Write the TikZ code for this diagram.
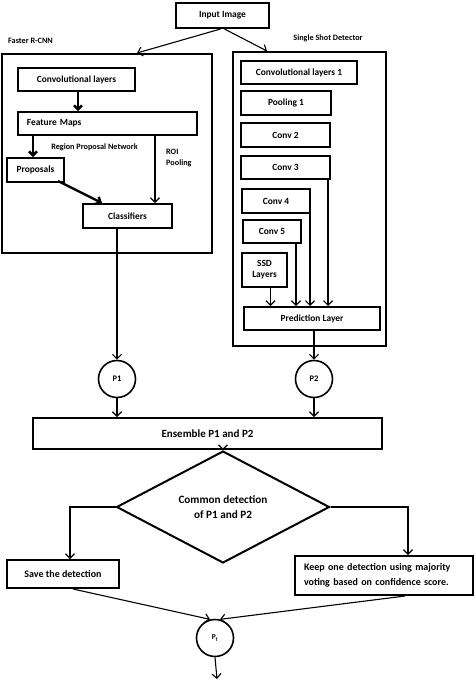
\documentclass[tikz,border=0pt]{standalone}
\usepackage{fontspec}
\setmainfont{Carlito}
\usetikzlibrary{arrows.meta,shapes.geometric}
\begin{document}
\begin{tikzpicture}[x=1pt,y=-1pt,
  box/.style={draw, line width=2pt, inner sep=0pt, font=\bfseries\fontsize{9.4}{11}\selectfont, align=center},
  frame/.style={draw, line width=2pt, inner sep=0pt},
  circ/.style={draw, circle, line width=1.6pt, inner sep=0pt, minimum size=37pt, font=\bfseries\fontsize{8.5}{10}\selectfont},
  lbl/.style={font=\bfseries\fontsize{8.2}{10}\selectfont, inner sep=0pt},
  arr/.style={line width=1.1pt, -{Straight Barb[length=4.5pt,width=9pt]}},
  heavyarr/.style={line width=2.4pt, -{Straight Barb[length=4pt,width=8pt]}},
  ]
\useasboundingbox (0,0) rectangle (474,680);

% frames
\node[frame, minimum width=210pt, minimum height=199pt] (frcnn) at (107,153.5) {};
\node[frame, minimum width=153pt, minimum height=294pt] (ssd) at (309.5,199) {};

\node[box, minimum width=93pt, minimum height=25pt] (input) at (222.5,15.5) {Input Image};

\node[lbl, anchor=west] (lfr) at (8,41) {Faster R-CNN};
\node[lbl] (lssd) at (328,38) {Single Shot Detector};

% Faster R-CNN
\node[box, minimum width=117pt, minimum height=23pt] (conv) at (76.5,79.5) {Convolutional layers};
\node[box, minimum width=179pt, minimum height=23pt, inner xsep=9pt, text width=161pt, align=left] (fm) at (107.5,123.5) {Feature Maps};
\node[box, minimum width=57pt, minimum height=24pt] (prop) at (35.5,170) {Proposals};
\node[box, minimum width=89pt, minimum height=24pt] (cls) at (127.5,216) {Classifiers};
\node[lbl] (rpn) at (94.5,147) {Region Proposal Network};
\node[lbl, anchor=west, align=left] (roi) at (166,158) {ROI\\[1pt]Pooling};

% SSD
\node[box, minimum width=116pt, minimum height=23pt] (c1) at (299,72.5) {Convolutional layers 1};
\node[box, minimum width=90pt, minimum height=24pt] (pool) at (286,103) {Pooling 1};
\node[box, minimum width=89pt, minimum height=24pt] (c2) at (285.5,135) {Conv 2};
\node[box, minimum width=89pt, minimum height=23pt] (c3) at (285.5,167.5) {Conv 3};
\node[box, minimum width=68pt, minimum height=24pt] (c4) at (276,201) {Conv 4};
\node[box, minimum width=58pt, minimum height=23pt] (c5) at (272,231.5) {Conv 5};
\node[box, minimum width=45pt, minimum height=34pt] (ssdl) at (264.5,270) {SSD\\Layers};
\node[box, minimum width=136pt, minimum height=23pt] (pred) at (312,318.5) {Prediction Layer};

% circles
\node[circ] (p1) at (117,379) {P1};
\node[circ] (p2) at (314,379) {P2};

\node[box, minimum width=349pt, minimum height=31pt, font=\bfseries\fontsize{11}{13}\selectfont] (ens) at (207.5,433.5) {Ensemble P1 and P2};
\node[draw, diamond, line width=2pt, inner sep=0pt, minimum width=213pt, minimum height=75pt, align=center, font=\bfseries\fontsize{11.2}{15}\selectfont] (dia) at (223,507) {Common detection\\of P1 and P2};

\node[box, minimum width=112pt, minimum height=28pt, font=\bfseries\fontsize{10}{12}\selectfont] (save) at (63,574) {Save the detection};
\node[box, minimum width=178pt, minimum height=39pt, inner xsep=9pt, text width=160pt, align=left, font=\bfseries\fontsize{10}{14.5}\selectfont] (keep) at (384,575.5) {Keep one detection using majority\\voting based on confidence score.};

\node[circ, font=\bfseries\fontsize{7.5}{9}\selectfont] (pf) at (215,638) {P\textsubscript{f}};
\coordinate (out) at (217,679);

% connectors
\draw[arr] ([xshift=-2pt]input.south) -- (137,0 |- frcnn.north);
\draw[arr] ([xshift=2pt]input.south) -- (267,0 |- ssd.north);

\draw[heavyarr] (78,0 |- conv.south) -- (78,0 |- fm.north);
\draw[heavyarr] (33,0 |- fm.south) -- (33,0 |- prop.north);
\draw[arr] (155,0 |- fm.south) -- (155,0 |- cls.north);
\draw[heavyarr] ([xshift=-7pt,yshift=2pt]prop.south east) -- ([xshift=20pt]cls.north west);
\draw[arr] (p1 |- cls.south) -- (p1.north);

\draw[arr] ([xshift=-3pt]c3.south east) -- ([xshift=-3pt]c3.south east |- pred.north);
\draw[arr] ([xshift=-1pt]c4.south east) -- ([xshift=-1pt]c4.south east |- pred.north);
\draw[arr] ([xshift=-6pt]c5.south east) -- ([xshift=-6pt]c5.south east |- pred.north);
\draw[arr] ([xshift=6pt]ssdl.south) -- ([xshift=6pt]ssdl.south |- pred.north);
\draw[arr] (p2 |- pred.south) -- (p2.north);

\draw[arr] (p1.south) -- (p1 |- ens.north);
\draw[arr] (p2.south) -- (p2 |- ens.north);
\draw[arr] (dia.north |- ens.south) -- (dia.north);

\draw[arr] (dia.west) -| ([xshift=7pt]save.north);
\draw[arr] (dia.east) -| ([xshift=24pt]keep.north);

\draw[arr] ([xshift=10pt]save.south) -- (pf.105);
\draw[arr] ([xshift=21pt]keep.south) -- (pf.75);
\draw[arr] (pf.south) -- (out);
\end{tikzpicture}
\end{document}
